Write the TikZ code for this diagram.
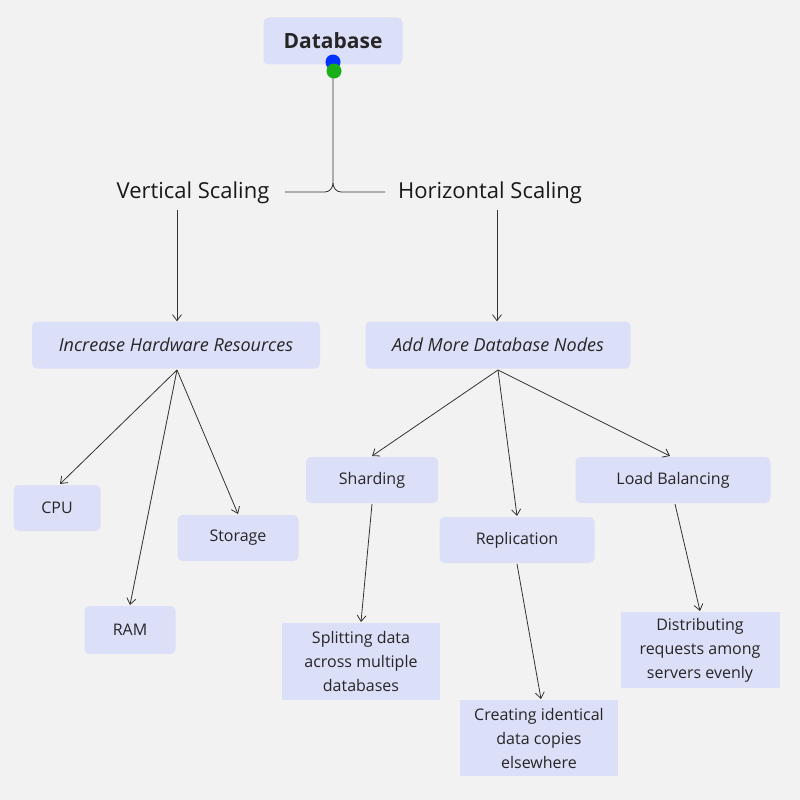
\documentclass[tikz,border=0pt]{standalone}
\usepackage{fontspec}
\setmainfont{Open Sans}
\usetikzlibrary{arrows.meta}
\definecolor{bg}{HTML}{F2F2F2}
\definecolor{bx}{HTML}{DCDFF8}
\begin{document}
\begin{tikzpicture}[x=1pt,y=-1pt,
  box/.style={fill=bx,rounded corners=5pt,inner sep=0pt,align=center,text=black!85},
  sq/.style={fill=bx,inner sep=0pt,align=center,text=black!85,font=\fontsize{16}{24}\selectfont},
  arr/.style={-{Straight Barb[length=6pt,width=9pt]},line width=0.8pt,black!80}]
\fill[bg] (0,0) rectangle (800,800);
\useasboundingbox (0,0) rectangle (800,800);
\node[box,minimum width=139pt,minimum height=47pt,font=\fontsize{21}{24}\selectfont\bfseries] (db) at (333,41) {Database};
\node[font=\fontsize{22}{26}\selectfont,text=black!90] (vs) at (193,193) {Vertical Scaling};
\node[font=\fontsize{22}{26}\selectfont,text=black!90] (hs) at (490,193) {Horizontal Scaling};
\node[box,minimum width=288pt,minimum height=47pt,font=\fontsize{18}{22}\selectfont\itshape] (ihr) at (176,345) {Increase Hardware Resources};
\node[box,minimum width=265pt,minimum height=47pt,font=\fontsize{18}{22}\selectfont\itshape] (adn) at (498,345) {Add More Database Nodes};
\node[box,minimum width=87pt,minimum height=46pt,font=\fontsize{16}{20}\selectfont] (cpu) at (57,508) {CPU};
\node[box,minimum width=91pt,minimum height=48pt,font=\fontsize{16}{20}\selectfont] (ram) at (130,630) {RAM};
\node[box,minimum width=121pt,minimum height=46pt,font=\fontsize{16}{20}\selectfont] (sto) at (238,538) {Storage};
\node[box,minimum width=132pt,minimum height=46pt,font=\fontsize{16}{20}\selectfont] (sh) at (372,480) {Sharding};
\node[box,minimum width=155pt,minimum height=46pt,font=\fontsize{16}{20}\selectfont] (rep) at (517,540) {Replication};
\node[box,minimum width=195pt,minimum height=46pt,font=\fontsize{16}{20}\selectfont] (lb) at (673,480) {Load Balancing};
\node[sq,minimum width=158pt,minimum height=77pt] (spl) at (361,661) {Splitting data\\across multiple\\databases};
\node[sq,minimum width=158pt,minimum height=76pt] (cre) at (539,738) {Creating identical\\data copies\\elsewhere};
\node[sq,minimum width=159pt,minimum height=76pt] (dis) at (700,650) {Distributing\\requests among\\servers evenly};
% bracket
\coordinate (top) at (333,75);
\draw[line width=0.8pt,black!80] (top) -- (333,183) to[out=-90,in=0] (325,192) -- (285,192);
\draw[line width=0.8pt,black!80] (333,183) to[out=-90,in=180] (341,192) -- (385,192);
\fill[blue!80!cyan] (333,62) circle (7.5);
\fill[green!65!black!90] (334,71) circle (7.5);
\draw[arr] (177,210) -- (ihr.north -| 177,0);
\draw[arr] (497,210) -- (adn.north -| 497,0);
\coordinate (ihrb) at (177,370);
\draw[arr] (ihrb) -- (60,484);
\draw[arr] (ihrb) -- (130,605);
\draw[arr] (ihrb) -- (238,514);
\coordinate (adnb) at (498,370);
\draw[arr] (adnb) -- (372,456);
\draw[arr] (adnb) -- (517,516);
\draw[arr] (adnb) -- (670,456);
\draw[arr] (372,504) -- (361,622);
\draw[arr] (517,564) -- (541,699);
\draw[arr] (675,504) -- (700,611);
\end{tikzpicture}
\end{document}
